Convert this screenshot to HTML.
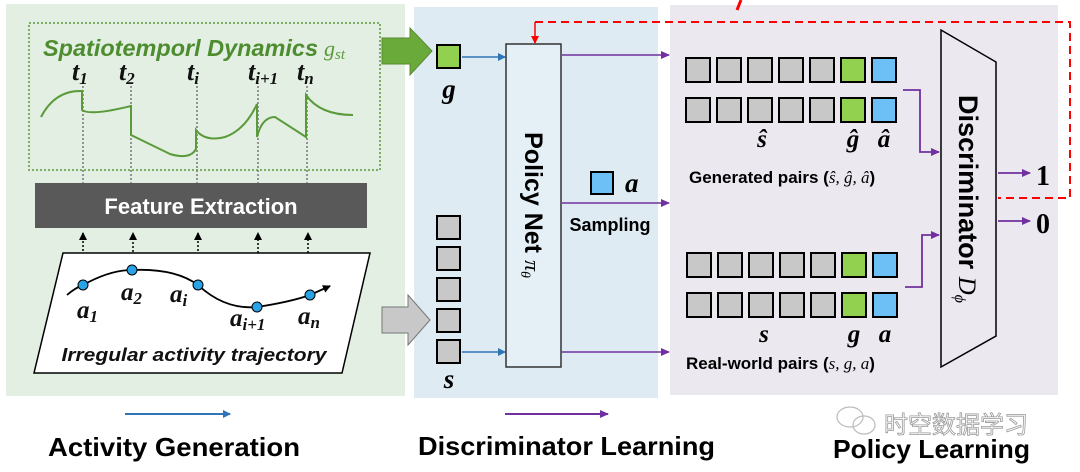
<!DOCTYPE html>
<html><head><meta charset="utf-8"><style>
html,body{margin:0;padding:0;background:#fff;}
svg{display:block;font-family:"Liberation Sans","Noto Sans CJK SC",sans-serif;}
.m{font-family:"Liberation Serif",serif;font-style:italic;font-weight:bold;}
</style></head><body>
<svg width="1080" height="472" viewBox="0 0 1080 472" xmlns="http://www.w3.org/2000/svg">
<defs>
<marker id="ab" markerWidth="8" markerHeight="8" refX="7" refY="4" orient="auto" markerUnits="userSpaceOnUse"><path d="M0,0 L8,4 L0,8 z" fill="#2e75b6"/></marker>
<marker id="ap" markerWidth="9" markerHeight="8" refX="8" refY="4" orient="auto" markerUnits="userSpaceOnUse"><path d="M0,0 L9,4 L0,8 z" fill="#7030a0"/></marker>
<marker id="ak" markerWidth="8" markerHeight="8" refX="7" refY="4" orient="auto" markerUnits="userSpaceOnUse"><path d="M0,0 L8,4 L0,8 z" fill="#000"/></marker>
<marker id="ar" markerWidth="8" markerHeight="8" refX="7" refY="4" orient="auto" markerUnits="userSpaceOnUse"><path d="M0,0 L8,4 L0,8 z" fill="#f00"/></marker>
</defs>
<rect x="6" y="4" width="399" height="392" fill="#e2efe2"/>
<rect x="414" y="7" width="244" height="391" fill="#deebf2"/>
<rect x="670" y="5" width="388" height="390" fill="#ebe8f0"/>
<rect x="29" y="23" width="351" height="147" fill="none" stroke="#5a9a3a" stroke-width="1.5" stroke-dasharray="2,2"/>
<text x="43" y="56" font-size="23" font-weight="bold" font-style="italic" fill="#4e8c30" textLength="275" lengthAdjust="spacingAndGlyphs">Spatiotemporl Dynamics</text>
<text x="324" y="56" font-size="22" class="m" fill="#5a9a3a" style="font-weight:normal">g<tspan font-size="15" dy="3">st</tspan></text>
<g class="m" font-size="26" fill="#111">
<text x="72" y="80">t<tspan font-size="17" dy="4">1</tspan></text>
<text x="119" y="80">t<tspan font-size="17" dy="4">2</tspan></text>
<text x="187" y="80">t<tspan font-size="17" dy="4">i</tspan></text>
<text x="248" y="80">t<tspan font-size="17" dy="4">i+1</tspan></text>
<text x="297" y="80">t<tspan font-size="17" dy="4">n</tspan></text>
</g>
<g stroke="#777" stroke-width="1.5" stroke-dasharray="2,2">
<line x1="83" y1="86" x2="83" y2="183"/><line x1="131" y1="86" x2="131" y2="183"/><line x1="197" y1="86" x2="197" y2="183"/><line x1="258" y1="86" x2="258" y2="183"/><line x1="307" y1="86" x2="307" y2="183"/>
</g>
<path d="M41,117 Q55,90 82,91 L82,110 Q90,116 131,106 L131,135 L170,154 Q190,160 196,149 L196,130 Q205,142 225,137 Q245,130 257,104 L257,137 Q262,117 275,117 L306,137 L306,95 Q320,115 353,115" fill="none" stroke="#5a9a3a" stroke-width="2"/>
<rect x="35" y="183" width="332" height="45" fill="#595959"/>
<text x="201" y="214" font-size="22" font-weight="bold" fill="#fff" text-anchor="middle">Feature Extraction</text>
<g stroke="#000" stroke-width="1.5" stroke-dasharray="2,2" marker-end="url(#ak)">
<line x1="83" y1="283" x2="83" y2="233"/><line x1="133" y1="268" x2="133" y2="233"/><line x1="198" y1="283" x2="198" y2="233"/><line x1="258" y1="305" x2="258" y2="233"/><line x1="308" y1="293" x2="308" y2="233"/>
</g>
<polygon points="63,253 370,253 342,373 34,373" fill="#fff" stroke="#000" stroke-width="1.5"/>
<path d="M67,295 Q75,288 83,285 Q110,270 132,270 Q175,268 198,285 Q225,310 257,307 Q290,302 310,295 L330,286" fill="none" stroke="#000" stroke-width="1.8" marker-end="url(#ak)"/>
<g fill="#29a3e8" stroke="#000" stroke-width="1"><circle cx="83" cy="285" r="5"/><circle cx="132" cy="270" r="5"/><circle cx="198" cy="285" r="5"/><circle cx="257" cy="307" r="5"/><circle cx="310" cy="295" r="5"/></g>
<g class="m" font-size="25" fill="#111">
<text x="77" y="318">a<tspan font-size="17" dy="4">1</tspan></text>
<text x="121" y="300">a<tspan font-size="17" dy="4">2</tspan></text>
<text x="170" y="302">a<tspan font-size="17" dy="4">i</tspan></text>
<text x="230" y="326">a<tspan font-size="17" dy="4">i+1</tspan></text>
<text x="298" y="324">a<tspan font-size="17" dy="4">n</tspan></text>
</g>
<text x="194" y="361" font-size="18" font-weight="bold" font-style="italic" fill="#111" text-anchor="middle" textLength="265" lengthAdjust="spacingAndGlyphs">Irregular activity trajectory</text>
<polygon points="382,38 410,38 410,28 432,51 410,75 410,64 382,64" fill="#6aaa3a" stroke="#5a8a30"/>
<polygon points="382,307 408,307 408,295 430,320 408,345 408,333 382,333" fill="#c8c8c8" stroke="#777"/>
<rect x="437" y="45" width="23" height="23" fill="#92d050" stroke="#000" stroke-width="2"/>
<text x="449" y="98" class="m" font-size="27" text-anchor="middle">g</text>
<g fill="#c8c8c8" stroke="#000" stroke-width="2">
<rect x="437" y="216" width="23" height="23"/><rect x="437" y="247" width="23" height="23"/><rect x="437" y="278" width="23" height="23"/><rect x="437" y="309" width="23" height="23"/><rect x="437" y="340" width="23" height="23"/></g>
<text x="449" y="388" class="m" font-size="27" text-anchor="middle">s</text>
<line x1="462" y1="57" x2="505" y2="57" stroke="#2e75b6" stroke-width="1.5" marker-end="url(#ab)"/>
<line x1="462" y1="352" x2="505" y2="352" stroke="#2e75b6" stroke-width="1.5" marker-end="url(#ab)"/>
<rect x="506" y="44" width="55" height="323" fill="#e4f0f6" stroke="#333" stroke-width="1.5"/>
<text transform="translate(525,205) rotate(90)" font-size="25" font-weight="bold" text-anchor="middle">Policy Net <tspan class="m" style="font-weight:normal" font-size="22">π<tspan font-size="14" dy="4">θ</tspan></tspan></text>
<g stroke="#7030a0" stroke-width="1.5" marker-end="url(#ap)">
<line x1="562" y1="55" x2="669" y2="55"/><line x1="562" y1="203" x2="669" y2="203"/><line x1="562" y1="352" x2="669" y2="352"/></g>
<rect x="591" y="172" width="22" height="22" fill="#6cc0f5" stroke="#000" stroke-width="2"/>
<text x="625" y="192" class="m" font-size="27">a</text>
<text x="610" y="231" font-size="18" font-weight="bold" text-anchor="middle">Sampling</text>
<path d="M535,22 L1070,22 L1070,198 L998,198" fill="none" stroke="#f00" stroke-width="2" stroke-dasharray="8,5"/>
<line x1="535" y1="22" x2="535" y2="43" stroke="#f00" stroke-width="1.5" marker-end="url(#ar)"/>
<line x1="737" y1="10" x2="741" y2="0" stroke="#f00" stroke-width="3"/>
<g stroke="#000" stroke-width="2">
<g fill="#c8c8c8">
<rect x="686" y="58" width="24" height="24"/><rect x="717" y="58" width="24" height="24"/><rect x="748" y="58" width="24" height="24"/><rect x="779" y="58" width="24" height="24"/><rect x="810" y="58" width="24" height="24"/>
<rect x="686" y="98" width="24" height="24"/><rect x="717" y="98" width="24" height="24"/><rect x="748" y="98" width="24" height="24"/><rect x="779" y="98" width="24" height="24"/><rect x="810" y="98" width="24" height="24"/>
<rect x="687" y="253" width="24" height="24"/><rect x="718" y="253" width="24" height="24"/><rect x="749" y="253" width="24" height="24"/><rect x="780" y="253" width="24" height="24"/><rect x="811" y="253" width="24" height="24"/>
<rect x="687" y="293" width="24" height="24"/><rect x="718" y="293" width="24" height="24"/><rect x="749" y="293" width="24" height="24"/><rect x="780" y="293" width="24" height="24"/><rect x="811" y="293" width="24" height="24"/>
</g>
<g fill="#92d050"><rect x="841" y="58" width="24" height="24"/><rect x="841" y="98" width="24" height="24"/><rect x="842" y="253" width="24" height="24"/><rect x="842" y="293" width="24" height="24"/></g>
<g fill="#6cc0f5"><rect x="872" y="58" width="24" height="24"/><rect x="872" y="98" width="24" height="24"/><rect x="873" y="253" width="24" height="24"/><rect x="873" y="293" width="24" height="24"/></g>
</g>
<g class="m" font-size="25" text-anchor="middle">
<text x="762" y="147">ŝ</text><text x="853" y="147">ĝ</text><text x="884" y="147">â</text>
<text x="764" y="342">s</text><text x="854" y="342">g</text><text x="885" y="342">a</text>
</g>
<text x="689" y="183" font-size="17" font-weight="bold">Generated pairs (<tspan class="m" style="font-weight:normal">ŝ, ĝ, â</tspan>)</text>
<text x="686" y="369" font-size="17" font-weight="bold">Real-world pairs (<tspan class="m" style="font-weight:normal">s, g, a</tspan>)</text>
<g fill="none" stroke="#7030a0" stroke-width="1.8">
<path d="M903,90 L920,90 L920,152 L939,152" marker-end="url(#ap)"/>
<path d="M905,287 L922,287 L922,235 L939,235" marker-end="url(#ap)"/>
<path d="M998,173 L1030,173" marker-end="url(#ap)"/>
<path d="M998,221 L1030,221" marker-end="url(#ap)"/>
</g>
<polygon points="941,30 996,62 996,336 941,367" fill="#ebe8f0" stroke="#000" stroke-width="1.5"/>
<text transform="translate(959,199) rotate(90)" font-size="27" font-weight="bold" text-anchor="middle">Discriminator <tspan class="m" style="font-weight:normal" font-size="25">D<tspan font-size="16" dy="4">ϕ</tspan></tspan></text>
<text x="1036" y="185" font-family="Liberation Serif,serif" font-weight="bold" font-size="28">1</text>
<text x="1036" y="233" font-family="Liberation Serif,serif" font-weight="bold" font-size="28">0</text>
<line x1="125" y1="414" x2="230" y2="414" stroke="#2e75b6" stroke-width="2" marker-end="url(#ab)"/>
<line x1="505" y1="414" x2="608" y2="414" stroke="#7030a0" stroke-width="2" marker-end="url(#ap)"/>
<text x="48" y="456" font-size="26" font-weight="bold" textLength="252" lengthAdjust="spacingAndGlyphs">Activity Generation</text>
<text x="418" y="455" font-size="26" font-weight="bold" textLength="297" lengthAdjust="spacingAndGlyphs">Discriminator Learning</text>
<g fill="none" stroke="#bbb" stroke-width="1.2"><ellipse cx="850" cy="417" rx="13" ry="10"/><ellipse cx="864" cy="425" rx="11" ry="9"/></g>
<text x="884" y="433" font-size="24" fill="#fff" stroke="#999" stroke-width="0.8" font-family="Noto Sans CJK SC,sans-serif">时空数据学习</text>
<text x="833" y="458" font-size="26" font-weight="bold" textLength="197" lengthAdjust="spacingAndGlyphs">Policy Learning</text>
</svg>
</body></html>
